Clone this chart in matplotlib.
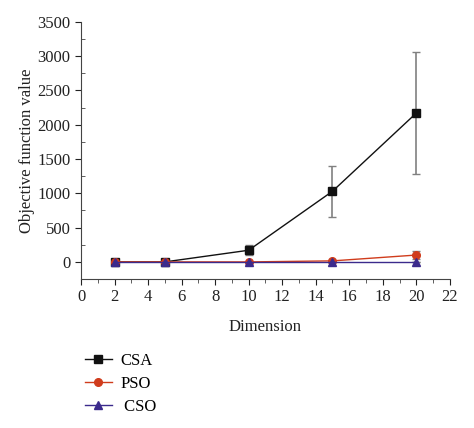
import numpy as np
import matplotlib.pyplot as plt
from matplotlib.ticker import MultipleLocator

plt.rcParams['font.family'] = ['Liberation Serif', 'DejaVu Serif']

dims = [2, 5, 10, 15, 20]
csa = [0, 0, 170, 1030, 2170]
csa_err = [10, 10, 70, 375, 885]
pso = [0, 0, 0, 15, 100]
pso_err = [5, 5, 5, 10, 60]
cso = [0, 0, 0, 0, 0]
cso_err = [3, 3, 3, 3, 3]

fig = plt.figure(figsize=(4.74, 4.28), dpi=100)
ax = fig.add_axes([0.171, 0.348, 0.778, 0.601])

series = [
    ("CSA", csa, csa_err, "#111111", "s"),
    ("PSO", pso, pso_err, "#d03c1c", "o"),
    (" CSO", cso, cso_err, "#3b2a8c", "^"),
]
handles = []
for label, vals, err, color, marker in series:
    ax.errorbar(dims, vals, yerr=err, fmt="none", ecolor="#808080",
                elinewidth=1.2, capsize=3, capthick=1.0, zorder=2)
    h, = ax.plot(dims, vals, color=color, marker=marker, markersize=5.5,
                 linewidth=1.0, label=label, zorder=3)
    handles.append(h)

ax.set_xlim(0, 22)
ax.set_ylim(-250, 3500)
ax.xaxis.set_major_locator(MultipleLocator(2))
ax.xaxis.set_minor_locator(MultipleLocator(1))
ax.yaxis.set_major_locator(MultipleLocator(500))
ax.yaxis.set_minor_locator(MultipleLocator(250))
ax.spines['top'].set_visible(False)
ax.spines['right'].set_visible(False)
for s in ['left', 'bottom']:
    ax.spines[s].set_color('#444444')
ax.tick_params(which='major', direction='out', length=4, labelsize=12, colors='#222222')
ax.tick_params(axis='y', which='minor', direction='in', length=3, color='#444444')
ax.tick_params(axis='x', which='minor', direction='out', length=3, color='#444444')

ax.set_xlabel("Dimension", fontsize=12, color='#222222', labelpad=10)
ax.set_ylabel("Objective function value", fontsize=12, color='#222222', labelpad=2)

fig.legend(handles=handles, loc='upper left', bbox_to_anchor=(0.148, 0.21),
           frameon=False, fontsize=12, handlelength=1.6, labelspacing=0.42,
           handletextpad=0.5)

fig.savefig("out.png", dpi=100)
